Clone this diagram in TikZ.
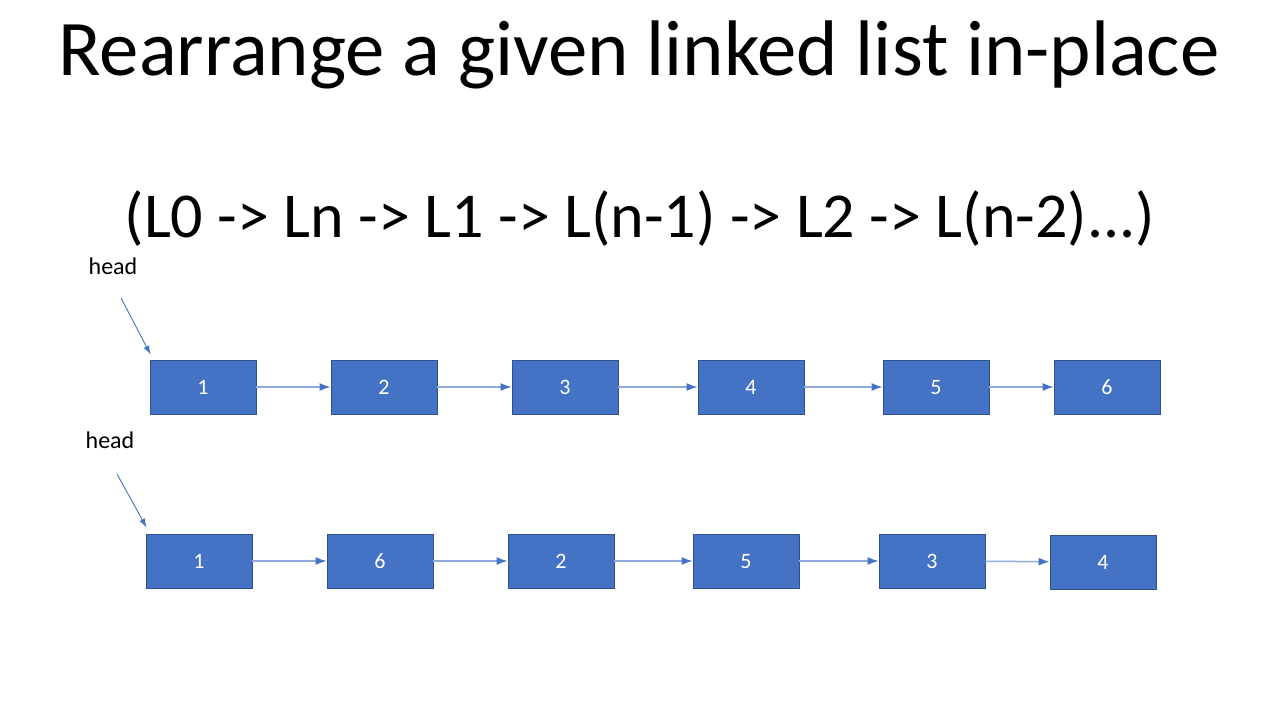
\documentclass[tikz,border=0pt]{standalone}
\usepackage{fontspec}
\setmainfont{Carlito}
\usetikzlibrary{arrows.meta,positioning}

\definecolor{boxblue}{HTML}{4472C4}
\definecolor{boxedge}{HTML}{2F528F}
\definecolor{linkline}{HTML}{8FAADC}

\begin{document}
\begin{tikzpicture}[
    x=1pt,
    y=-1pt,
    cell/.style={
        rectangle,
        draw=boxedge,
        fill=boxblue,
        line width=0.8pt,
        inner sep=0pt,
        minimum width=106pt,
        minimum height=54pt,
        text height=14pt,
        text depth=0pt,
        text=white,
        font=\fontsize{22}{26}\selectfont
    },
    headtext/.style={
        font=\fontsize{24}{28}\selectfont
    },
    line/.style={
        draw=linkline,
        line width=1.5pt,
        -{Latex[length=11pt,width=8pt,color=boxblue]}
    },
    pointer/.style={
        draw=boxblue,
        line width=0.9pt,
        -{Latex[length=9pt,width=6pt]}
    }
]
\useasboundingbox (0,0) rectangle (1280,720);

% Titles
\node [anchor=base, font=\fontsize{78.8}{88}\selectfont] (title) at (639,75) {Rearrange a given linked list in-place};
\node [anchor=base, font=\fontsize{64}{74}\selectfont] (order) at (640,237) {(L0 -> Ln -> L1 -> L(n-1) -> L2 -> L(n-2)...)};

% Nodes: original list
\node [headtext] (head1) at (113,266) {head};
\coordinate (h1) at (121,298);
\node [cell] (a1) at (203,387) {1};
\node [cell] (a2) at (384,387) {2};
\node [cell] (a3) at (565,387) {3};
\node [cell] (a4) at (751,387) {4};
\node [cell] (a5) at (936,387) {5};
\node [cell] (a6) at (1107,387) {6};

% Nodes: rearranged list
\node [headtext] (head2) at (110,440) {head};
\coordinate (h2) at (117,474);
\node [cell] (b1) at (199,561) {1};
\node [cell] (b6) at (380,561) {6};
\node [cell] (b2) at (561,561) {2};
\node [cell] (b5) at (746,561) {5};
\node [cell] (b3) at (932,561) {3};
\node [cell] (b4) at (1103,562) {4};

% Edges
\path [pointer] (h1) -- ([xshift=1pt,yshift=5pt]a1.north west);
\path [line] (a1) -- (a2);
\path [line] (a2) -- (a3);
\path [line] (a3) -- (a4);
\path [line] (a4) -- (a5);
\path [line] (a5) -- (a6);

\path [pointer] (h2) -- ([xshift=1pt,yshift=6pt]b1.north west);
\path [line] (b1) -- (b6);
\path [line] (b6) -- (b2);
\path [line] (b2) -- (b5);
\path [line] (b5) -- (b3);
\path [line] (b3) -- (b4);

\end{tikzpicture}
\end{document}
